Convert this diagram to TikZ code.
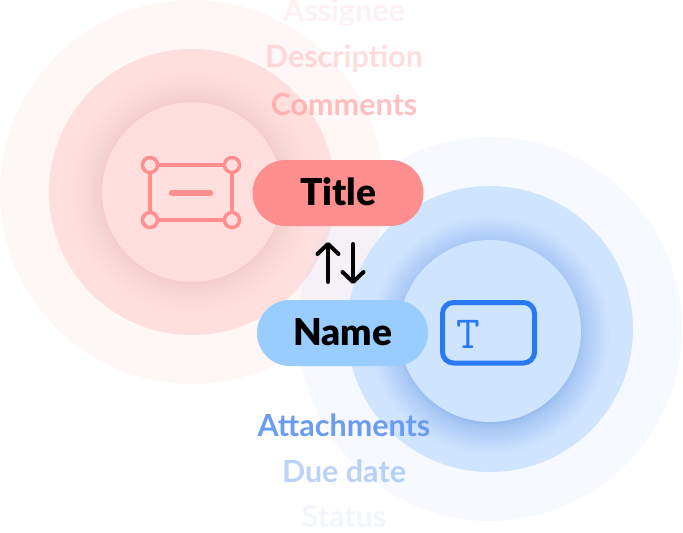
\documentclass[tikz,border=0pt]{standalone}
\usepackage{fontspec}
\setmainfont{Lato}
\newfontfamily\heavyfont{Lato Black}
\definecolor{redpill}{HTML}{FF8E8E}
\definecolor{redring}{HTML}{FFDEDE}
\definecolor{redouter}{HTML}{FFF6F6}
\definecolor{redglow}{HTML}{F58A8A}
\definecolor{redoverlap}{HTML}{F6F1F6}
\definecolor{ringoverlap}{HTML}{F6DEE2}
\definecolor{bluepill}{HTML}{99CCFF}
\definecolor{bluering}{HTML}{CFE4FF}
\definecolor{blueouter}{HTML}{F6F9FF}
\definecolor{blueglow}{HTML}{5C94E6}
\definecolor{blueicon}{HTML}{2979F5}
\definecolor{bluetext}{HTML}{6A9CF2}
\definecolor{redtext}{HTML}{FF8E8E}
\usetikzlibrary{arrows.meta}
\tikzset{
	pill/.style={rounded corners=33pt, minimum width=171pt, minimum height=66pt, inner sep=0pt, font=\fontsize{37}{37}\heavyfont, text=black},
	fieldname/.style={inner sep=0pt, font=\fontsize{30.5}{30.5}\selectfont\bfseries},
	handle/.style={circle, draw=redpill, line width=3.5pt, fill=redring, minimum size=15pt, inner sep=0pt},
	swaparrow/.style={line width=4pt, line cap=round, black, -{Straight Barb[round,length=10pt,width=21pt,line width=4pt]}}
}
\begin{document}
\begin{tikzpicture}[x=1pt,y=-1pt]
	\useasboundingbox (0,0) rectangle (683,533);
	\clip (0,0) rectangle (683,533);
	% red circles
	\fill[redouter] (192,192) circle (192);
	\fill[redring] (192,192) circle (143);
	\foreach \r in {1,...,20}
		\fill[redglow, opacity=0.009] (192,192) circle ({90+30*(\r/20)^2});
	\fill[redring] (192,192) circle (90);
	% blue circles
	\fill[blueouter] (490,329) circle (192);
	\begin{scope}
		\clip (490,329) circle (192);
		\fill[redoverlap] (192,192) circle (192);
		\fill[ringoverlap] (192,192) circle (143);
	\end{scope}
	\fill[bluering] (490,329) circle (143);
	\foreach \r in {1,...,20}
		\fill[blueglow, opacity=0.03] (490,335) circle ({87+32*(\r/20)^2});
	\fill[bluering] (490,331) circle (91);
	% red icon
	\coordinate (c0) at (150,165);
	\coordinate (c1) at (232,165);
	\coordinate (c2) at (232,220);
	\coordinate (c3) at (150,220);
	\draw[redpill, line width=3.5pt] (c0) -- (c1) -- (c2) -- (c3) -- cycle;
	\node[handle] (h0) at (c0) {};
	\node[handle] (h1) at (c1) {};
	\node[handle] (h2) at (c2) {};
	\node[handle] (h3) at (c3) {};
	\coordinate (d0) at (172,193);
	\coordinate (d1) at (210,193);
	\draw[redpill, line width=6.5pt, line cap=round] (d0) -- (d1);
	% blue icon
	\draw[blueicon, line width=5pt, rounded corners=11pt] (442.5,302.5) rectangle (534.5,363);
	\node[text=blueicon, inner sep=0pt, font=\fontsize{46}{46}\ttfamily] (t) at (468,334) {T};
	% pills
	\node[pill, fill=redpill] (title) at (338,193) {\raisebox{2pt}{Title}};
	\node[pill, fill=bluepill] (name) at (342.5,333) {\raisebox{2pt}{Name}};
	% arrows
	\coordinate (u0) at (328,282);
	\coordinate (u1) at (328,242);
	\coordinate (v0) at (353,244);
	\coordinate (v1) at (353,284);
	\draw[swaparrow] (u0) -- (u1);
	\draw[swaparrow] (v0) -- (v1);
	% field names
	\node[fieldname, text=redtext, opacity=0.12] (assignee) at (344,13) {Assignee};
	\node[fieldname, text=redtext, opacity=0.3] (description) at (344,59) {Description};
	\node[fieldname, text=redtext, opacity=0.55] (comments) at (344,104) {Comments};
	\node[fieldname, text=bluetext] (attachments) at (344,425) {Attachments};
	\node[fieldname, text=bluetext, opacity=0.45] (duedate) at (344,471) {Due date};
	\node[fieldname, text=bluetext, opacity=0.1] (status) at (344,516) {Status};
\end{tikzpicture}
\end{document}
